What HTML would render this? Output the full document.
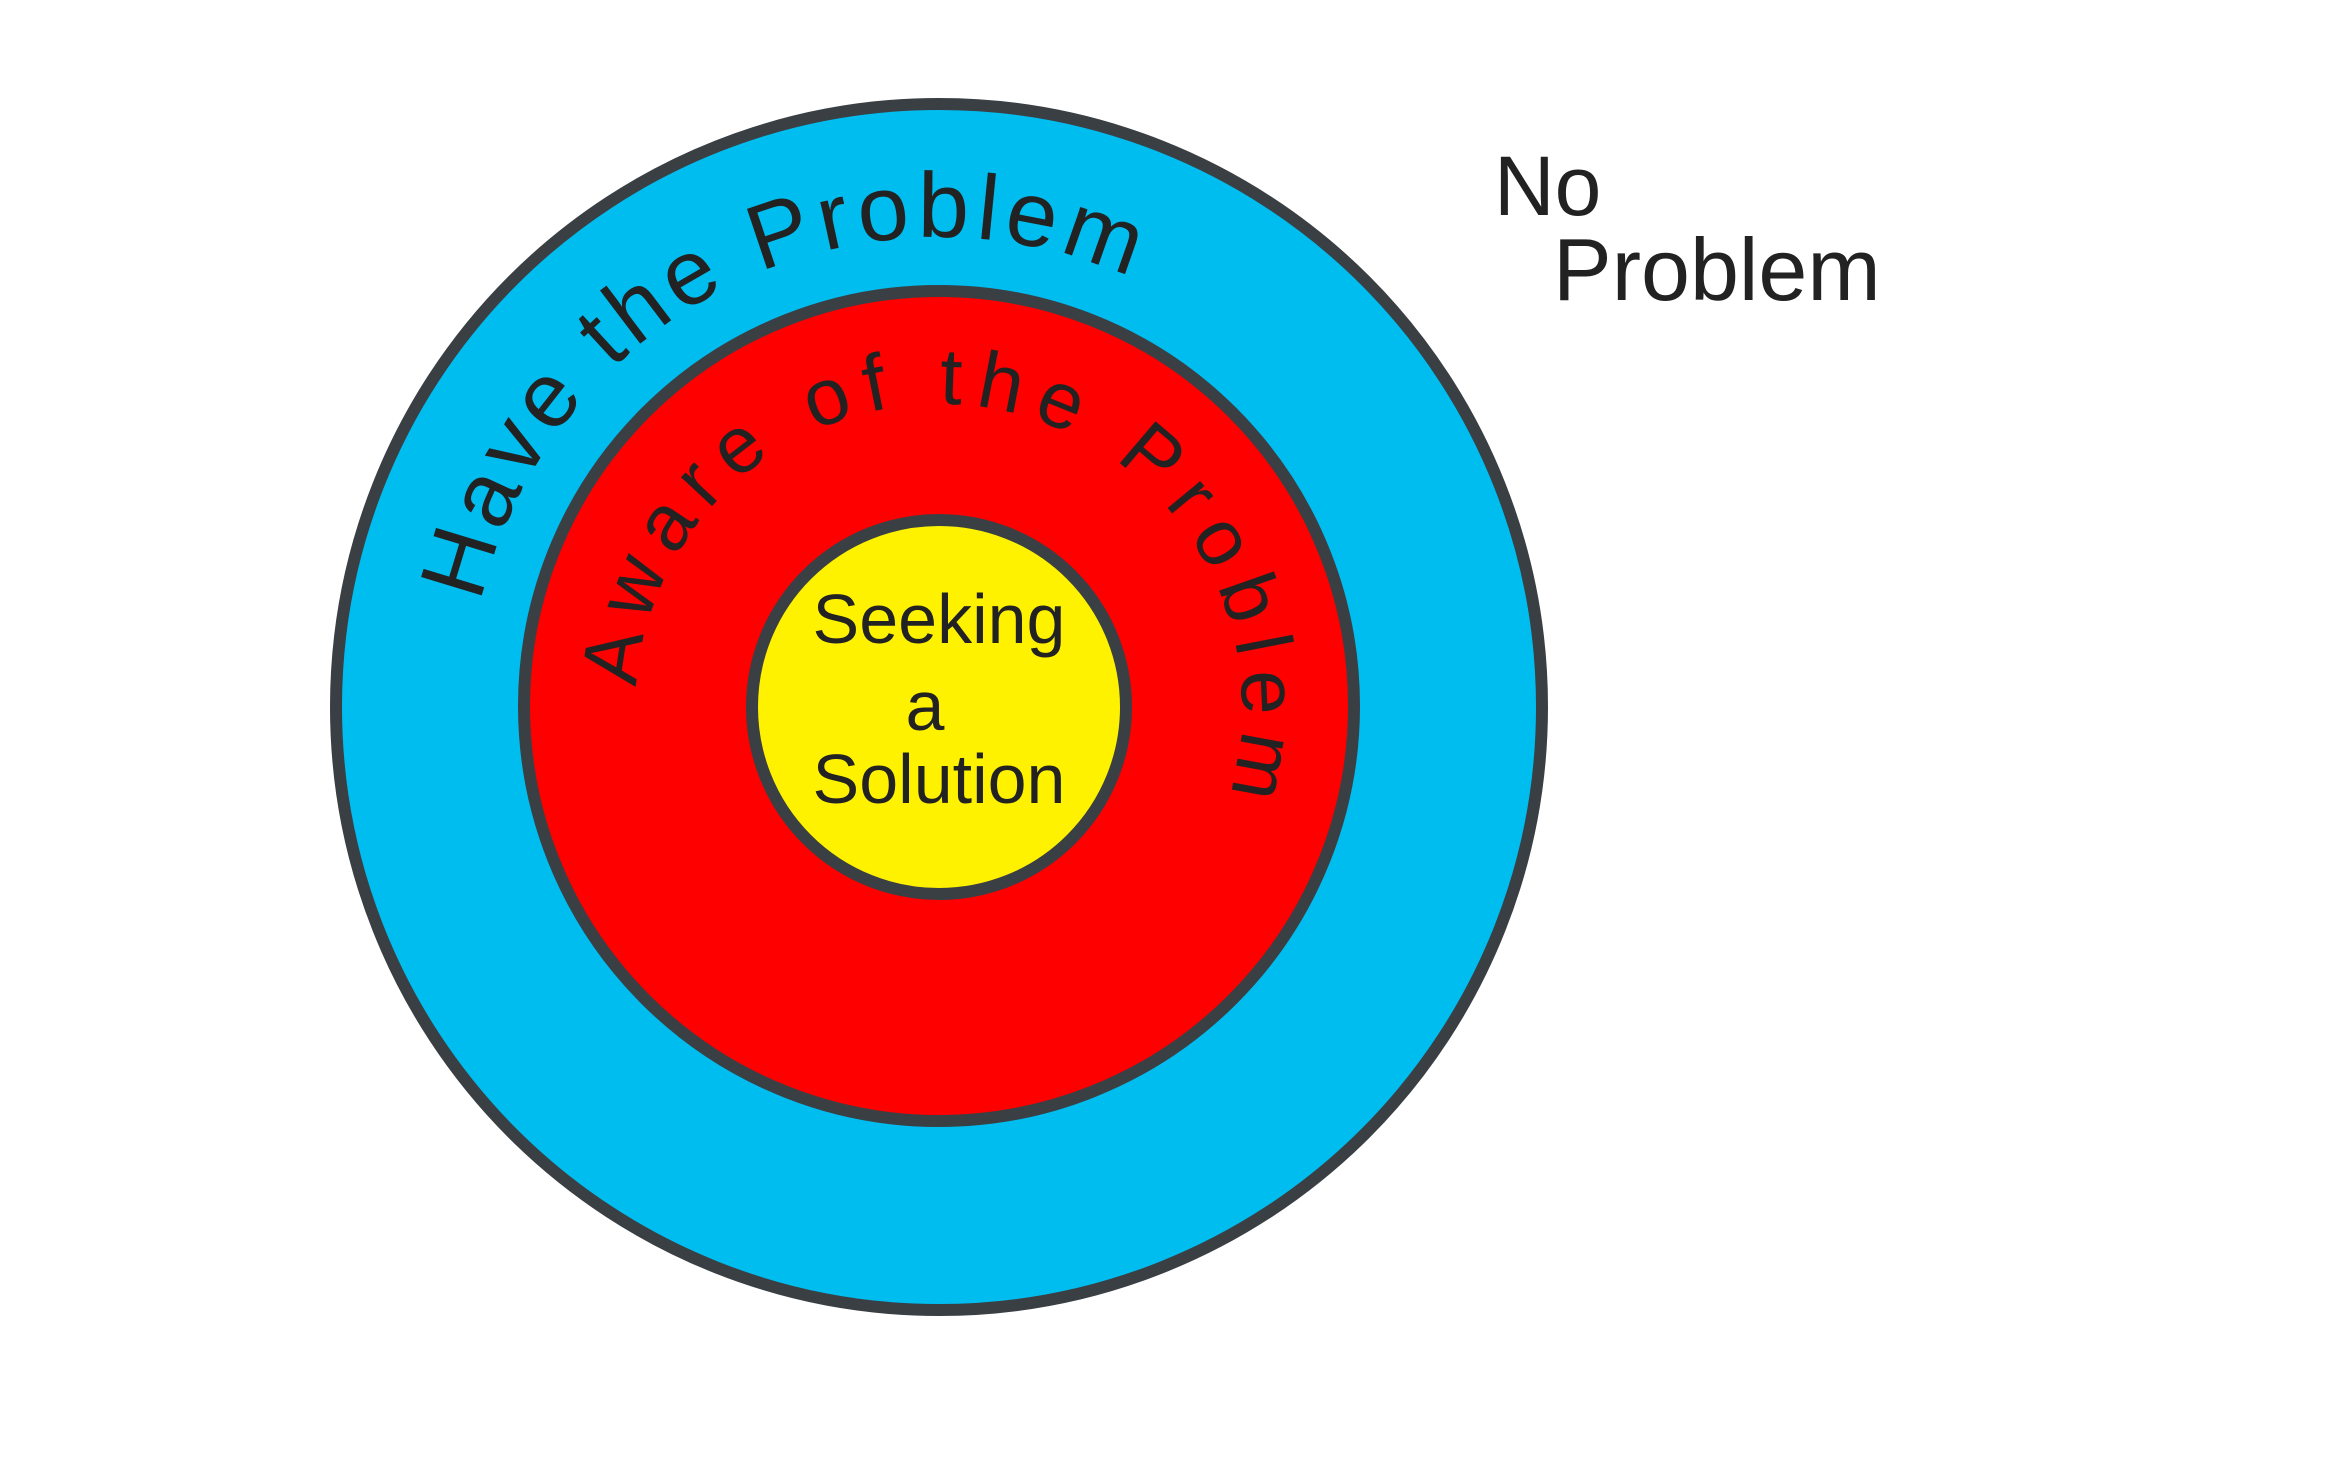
<!DOCTYPE html>
<html><head><meta charset="utf-8"><style>
html,body{margin:0;padding:0;background:#fff;}
svg{display:block}
text{font-family:"Liberation Sans",sans-serif;fill:#222;}
</style></head><body>
<svg width="2331" height="1483" viewBox="0 0 2331 1483" xmlns="http://www.w3.org/2000/svg">
<rect width="2331" height="1483" fill="#fff"/>
<defs>
<path id="outerArc" d="M 469 707 A 470 470 0 0 1 1409 707 A 470 470 0 0 1 469 707"/>
<path id="redArc" d="M 636 707 A 303 303 0 0 1 1242 707 A 303 303 0 0 1 636 707"/>
</defs>
<circle cx="939" cy="707" r="603" fill="#00bdf0" stroke="#3a3f44" stroke-width="12"/>
<circle cx="939" cy="706" r="415" fill="#fe0000" stroke="#3a3f44" stroke-width="12"/>
<circle cx="939" cy="707" r="187" fill="#fff200" stroke="#3a3f44" stroke-width="12"/>
<text font-size="92"><textPath href="#outerArc" startOffset="105" textLength="830" lengthAdjust="spacing">Have the Problem</textPath></text>
<text font-size="80"><textPath href="#redArc" startOffset="20" textLength="1020" lengthAdjust="spacing">Aware of the Problem</textPath></text>
<text x="939" y="643" font-size="70" text-anchor="middle">Seeking</text>
<text x="925" y="730" font-size="70" text-anchor="middle">a</text>
<text x="939" y="803" font-size="70" text-anchor="middle">Solution</text>
<text x="1494" y="215" font-size="84">No</text>
<text x="1553" y="300" font-size="88">Problem</text>
</svg>
</body></html>
